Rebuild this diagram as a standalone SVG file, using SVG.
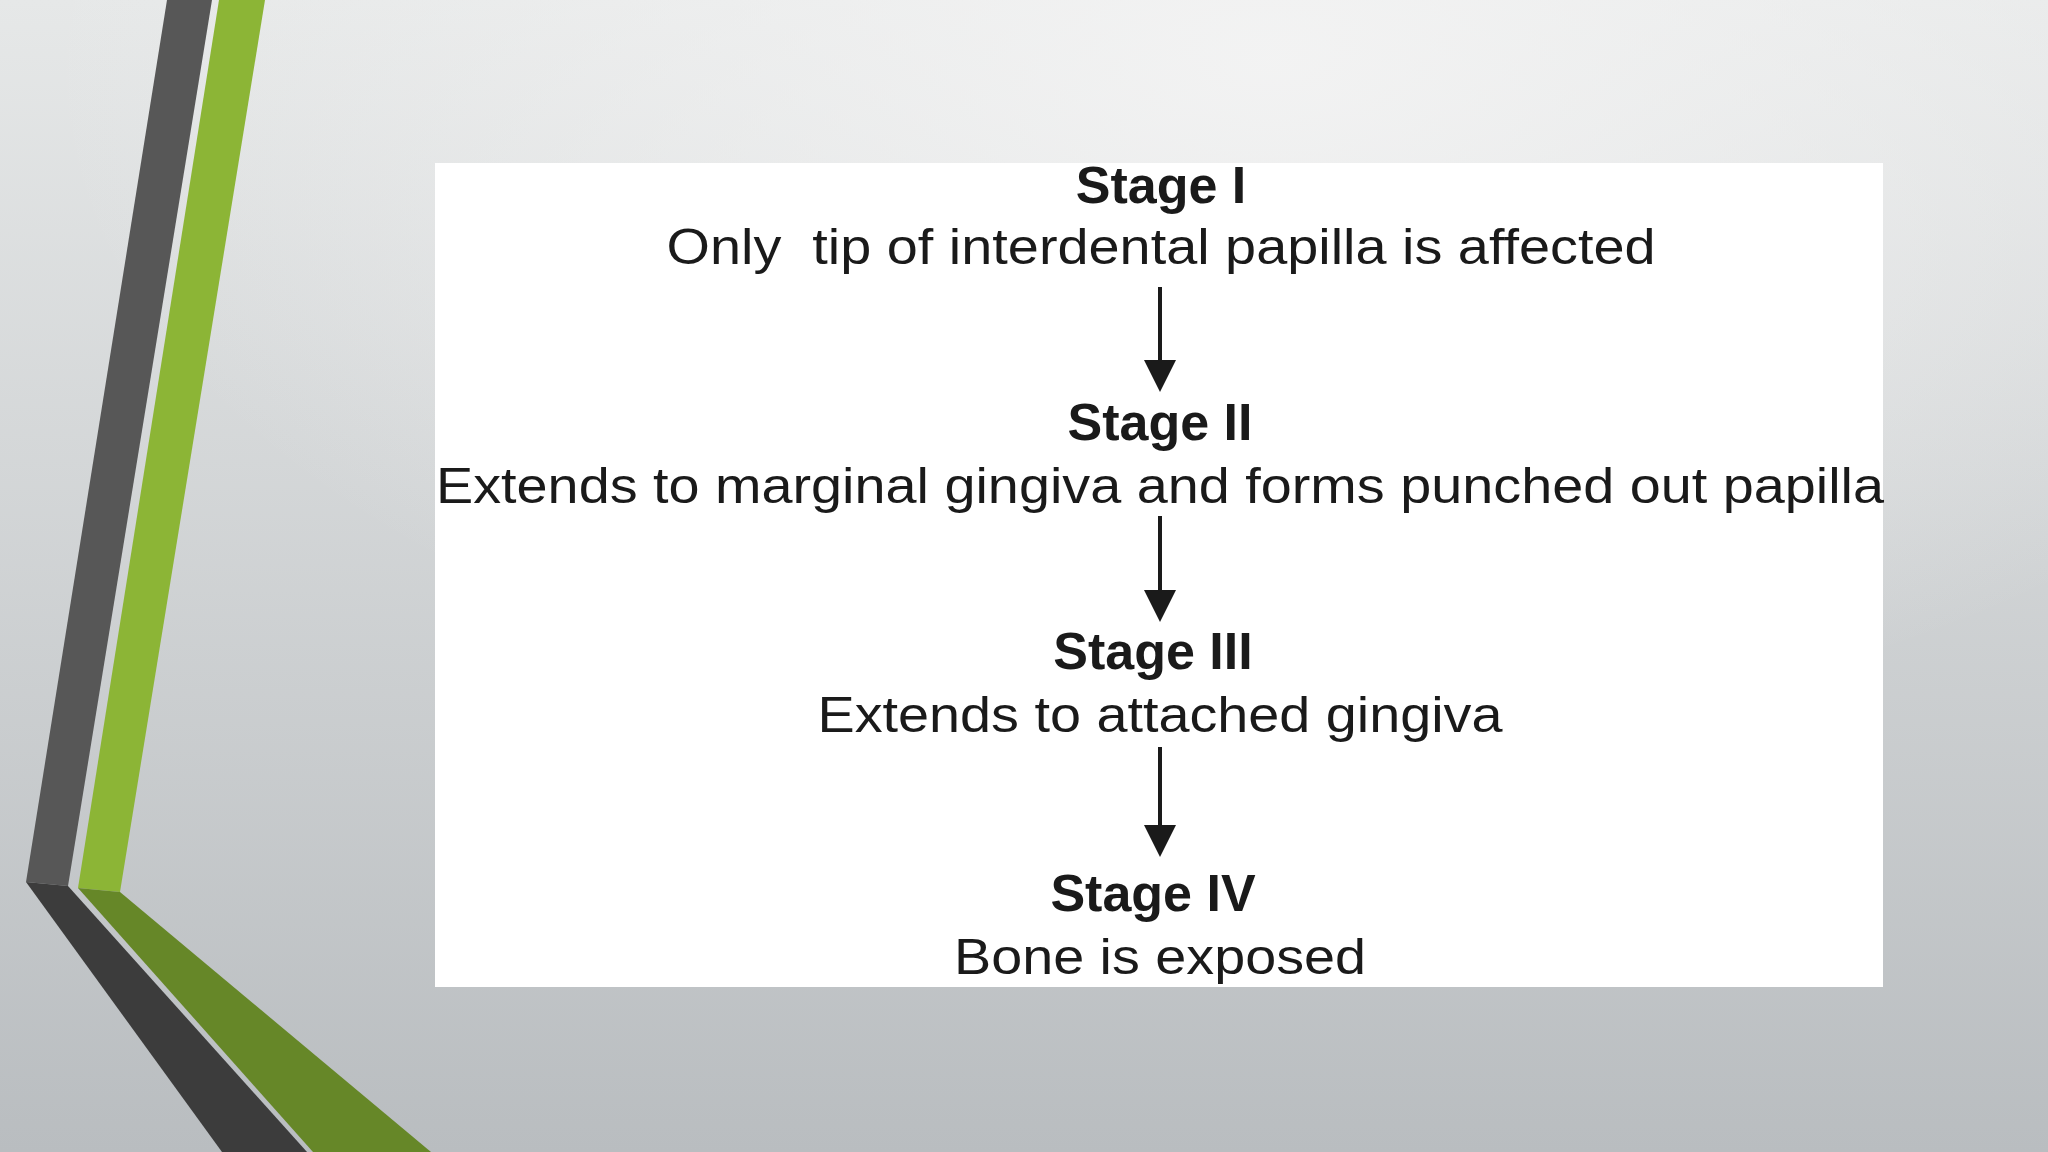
<svg xmlns="http://www.w3.org/2000/svg" width="2048" height="1152" viewBox="0 0 2048 1152">
<defs>
<linearGradient id="bg" x1="0" y1="0" x2="0" y2="1"><stop offset="0" stop-color="#e6e8e8"/><stop offset="1" stop-color="#b9bdc0"/></linearGradient>
<radialGradient id="hl" cx="0.62" cy="0.05" r="0.6"><stop offset="0" stop-color="#f4f4f4" stop-opacity="0.9"/><stop offset="1" stop-color="#f4f4f4" stop-opacity="0"/></radialGradient>
<marker id="ah" viewBox="0 0 10 10" refX="10" refY="5" markerWidth="10" markerHeight="10" markerUnits="userSpaceOnUse" orient="auto"><path d="M0,0 L10,5 L0,10 z" fill="#1a1a1a"/></marker>
<style>
.t{font-family:"Liberation Sans",Arial,sans-serif;fill:#1a1a1a;text-anchor:middle}
.h{font-weight:bold;font-size:52px}
.d{font-size:50px}
.c{stroke:#1a1a1a;stroke-width:4;fill:none}
</style>
</defs>
<rect width="2048" height="1152" fill="url(#bg)"/>
<rect width="2048" height="1152" fill="url(#hl)"/>
<g id="decor">
<polygon points="167,0 212,0 68,886 26,882" fill="#575757"/>
<polygon points="26,882 68,886 307,1152 222,1152" fill="#3c3c3c"/>
<polygon points="219,0 265,0 120,892 78,888" fill="#8cb536"/>
<polygon points="78,888 120,892 431,1152 313,1152" fill="#668728"/>
</g>
<rect x="435" y="163" width="1448" height="824" fill="#ffffff"/>
<g id="connectors">
<line class="c" x1="1160" y1="287" x2="1160" y2="360"/><path d="M1144,360 L1176,360 L1160,392 z" fill="#1a1a1a"/>
<line class="c" x1="1160" y1="516" x2="1160" y2="590"/><path d="M1144,590 L1176,590 L1160,622 z" fill="#1a1a1a"/>
<line class="c" x1="1160" y1="747" x2="1160" y2="825"/><path d="M1144,825 L1176,825 L1160,857 z" fill="#1a1a1a"/>
</g>
<g id="stage1"><text class="t h" x="1161" y="203">Stage I</text><text class="t d" x="1161" y="264" textLength="989" lengthAdjust="spacingAndGlyphs" xml:space="preserve">Only  tip of interdental papilla is affected</text></g>
<g id="stage2"><text class="t h" x="1160" y="440">Stage II</text><text class="t d" x="1160" y="503" textLength="1448" lengthAdjust="spacingAndGlyphs">Extends to marginal gingiva and forms punched out papilla</text></g>
<g id="stage3"><text class="t h" x="1153" y="669">Stage III</text><text class="t d" x="1160" y="732" textLength="685" lengthAdjust="spacingAndGlyphs">Extends to attached gingiva</text></g>
<g id="stage4"><text class="t h" x="1153" y="911">Stage IV</text><text class="t d" x="1160" y="974" textLength="412" lengthAdjust="spacingAndGlyphs">Bone is exposed</text></g>
</svg>
